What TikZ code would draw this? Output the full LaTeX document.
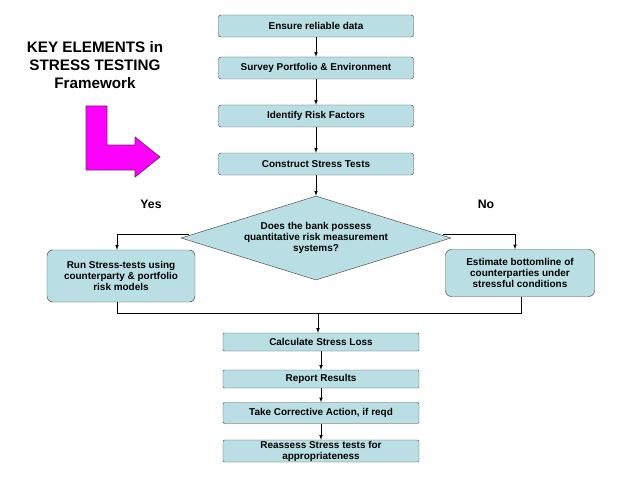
\documentclass[tikz,border=0pt]{standalone}
\usepackage{fontspec}
\setmainfont{Liberation Sans}
\usetikzlibrary{shapes.geometric}
\definecolor{boxfill}{HTML}{B9DFE4}
\definecolor{boxline}{HTML}{4A4A4A}
\definecolor{mag}{HTML}{FF00FF}
\definecolor{magline}{HTML}{6A2A6A}
\begin{document}
\begin{tikzpicture}[x=0.03cm,y=-0.03cm,
  box/.style={draw=boxline,fill=boxfill,rounded corners=2pt,align=center,
    font=\bfseries\fontsize{8.5}{9.5}\selectfont,inner sep=0pt},
  arr/.style={-{latex},thin,black}]
\useasboundingbox (0,0) rectangle (638,478);
% title
\node[align=center,font=\bfseries\fontsize{13}{15}\selectfont] (title) at (95,65)
  {KEY ELEMENTS in\\STRESS TESTING\\Framework};
% magenta arrow
\draw[draw=magline,fill=mag,line width=0.6pt]
  (86,106) -- (107,106) -- (107,145) -- (135,145) -- (135,137) -- (160,157)
  -- (135,177) -- (135,170) -- (86,170) -- cycle;
% main boxes
\node[box,minimum width=195*0.03cm,minimum height=22*0.03cm] (b1) at (316,26) {Ensure reliable data};
\node[box,minimum width=195*0.03cm,minimum height=22*0.03cm] (b2) at (316,68) {Survey Portfolio \& Environment};
\node[box,minimum width=195*0.03cm,minimum height=22*0.03cm] (b3) at (316,116) {Identify Risk Factors};
\node[box,minimum width=195*0.03cm,minimum height=22*0.03cm] (b4) at (316,164) {Construct Stress Tests};
\node[box,diamond,rounded corners=0pt,aspect=3.2,minimum width=270*0.03cm,minimum height=84*0.03cm] (d) at (316,238)
  {Does the bank possess\\quantitative risk measurement\\systems?};
\node[box,rounded corners=5pt,minimum width=148*0.03cm,minimum height=52*0.03cm] (l) at (121,276)
  {Run Stress-tests using\\counterparty \& portfolio\\risk models};
\node[box,rounded corners=5pt,minimum width=149*0.03cm,minimum height=47*0.03cm] (r) at (520,273)
  {Estimate bottomline of\\counterparties under\\stressful conditions};
\node[box,rounded corners=1pt,minimum width=196*0.03cm,minimum height=18*0.03cm] (c1) at (321,342) {Calculate Stress Loss};
\node[box,rounded corners=1pt,minimum width=196*0.03cm,minimum height=18*0.03cm] (c2) at (321,379) {Report Results};
\node[box,rounded corners=1pt,minimum width=196*0.03cm,minimum height=21*0.03cm] (c3) at (321,413) {Take Corrective Action, if reqd};
\node[box,rounded corners=1pt,minimum width=196*0.03cm,minimum height=22*0.03cm] (c4) at (321,451) {Reassess Stress tests for\\appropriateness};
\node[font=\bfseries\fontsize{10.5}{12}\selectfont] (yes) at (151,204) {Yes};
\node[font=\bfseries\fontsize{10.5}{12}\selectfont] (no) at (486,204) {No};
% connectors
\draw[arr] (b1) -- (b2);
\draw[arr] (b2) -- (b3);
\draw[arr] (b3) -- (b4);
\draw[arr] (b4) -- (d);
\coordinate (jl) at (117,234);
\coordinate (jr) at (515,234);
\draw[arr] ([xshift=8*0.03cm]d.west |- jl) -- (jl) -- (jl |- l.north);
\draw[arr] ([xshift=-8*0.03cm]d.east |- jr) -- (jr) -- (jr |- r.north);
\coordinate (bl) at (117,313);
\coordinate (br) at (521,313);
\coordinate (bm) at (318,313);
\draw (bl |- l.south) -- (bl) -- (br) -- (br |- r.south);
\draw[arr] (bm) -- (bm |- c1.north);
\draw[arr] (c1) -- (c2);
\draw[arr] (c2) -- (c3);
\draw[arr] (c3) -- (c4);
\end{tikzpicture}
\end{document}
